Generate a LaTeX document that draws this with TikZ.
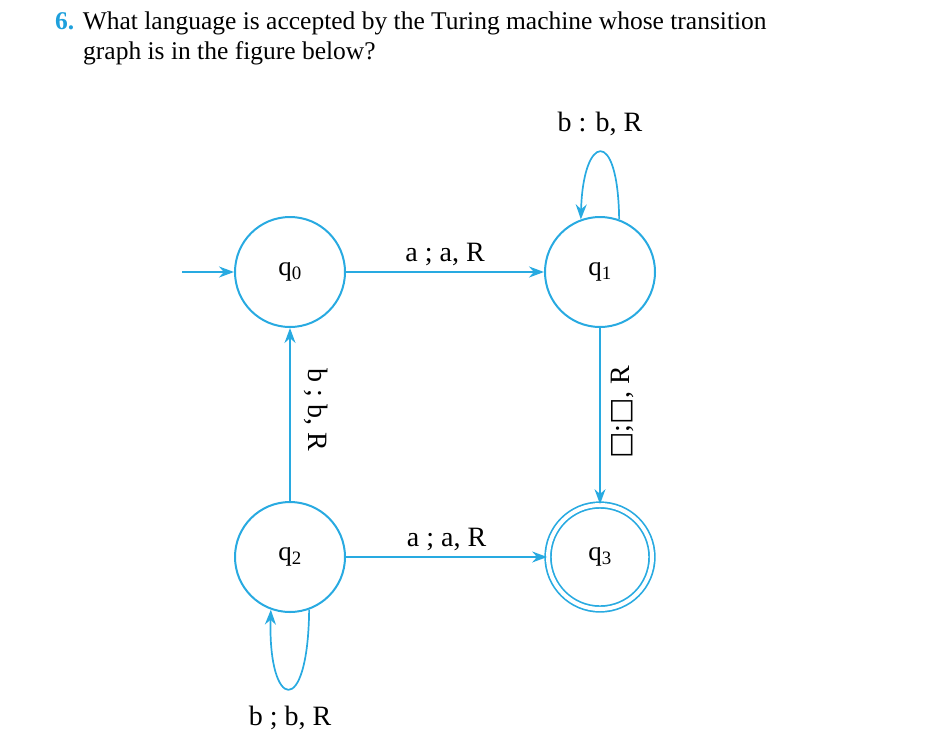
\documentclass[tikz,border=0pt]{standalone}
\usepackage{fontspec}
\setmainfont{Liberation Serif}
\newfontfamily\symfont{DejaVu Sans}
\usetikzlibrary{arrows.meta}
\definecolor{tm}{RGB}{40,170,225}
\definecolor{numc}{RGB}{30,160,220}
\begin{document}
\begin{tikzpicture}[x=1pt,y=-1pt,
  st/.style={circle,draw=tm,line width=2pt,minimum size=110pt,inner sep=0pt,font=\fontsize{27}{29}\selectfont},
  acc/.style={st,double=white,double distance=4pt,line width=1.7pt},
  edge/.style={draw=tm,line width=1.7pt,-{Stealth[length=15pt,width=11pt]}},
  lab/.style={font=\fontsize{28}{30}\selectfont,inner sep=1pt}]
\useasboundingbox (0,0) rectangle (925,755);
\node[anchor=north west,inner sep=0pt,align=left,font=\fontsize{25.5}{30}\selectfont] (title) at (55,12)
  {{\color{numc}\bfseries 6.} What language is accepted by the Turing machine whose transition\\
  \hspace*{28pt}graph is in the figure below?};
\node[st] (q0) at (290,272) {q\textsubscript{0}};
\node[st] (q1) at (600,272) {q\textsubscript{1}};
\node[st] (q2) at (290,557) {q\textsubscript{2}};
\node[acc,minimum size=104pt] (q3) at (600,557) {q\textsubscript{3}};
\coordinate (s) at (182,272);
\draw[edge] (s) -- (q0);
\draw[edge] (q0) -- node[lab,above=4pt] {a ; a, R} (q1);
\draw[edge] (q2) -- node[lab,above=4pt] {a ; a, R} (q3);
\draw[edge] (q1) -- (q3);
\node[lab,rotate=90] (l3) at (622,412) {{\symfont □};{\symfont □}, R};
\draw[edge] (q2) -- (q0);
\node[lab,rotate=-90] (l4) at (316,410) {b ; b, R};
\draw[edge] (q1.70) .. controls (618,125) and (583,135) .. (q1.110);
\node[lab] (l1) at (600,124) {b : b, R};
\draw[edge] (q2.-70) .. controls (308,720) and (268,710) .. (q2.-110);
\node[lab] (l2) at (290,718) {b ; b, R};
\end{tikzpicture}
\end{document}
